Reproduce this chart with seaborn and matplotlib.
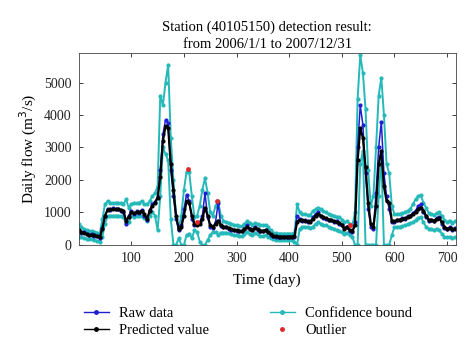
import numpy as np
import pandas as pd
import matplotlib
matplotlib.use("Agg")
import matplotlib.pyplot as plt
import seaborn as sns
from matplotlib.lines import Line2D

# sampled every 5 days (day 0 .. 715)
days = np.arange(0, 716, 5)

raw_data = [
    420, 380, 400, 340, 300, 330, 280, 270, 220, 520,
    880, 1120, 1080, 1130, 1090, 1120, 1050, 1000, 650, 900,
    1050, 950, 1030, 980, 1080, 900, 760, 1080, 1250, 1330,
    1480, 2300, 3400, 3850, 3750, 2300, 1500, 800, 450, 600,
    1100, 1550, 1350, 800, 600, 650, 700, 900, 1600, 850,
    560, 520, 700, 1300, 580, 560, 540, 500, 470, 450,
    440, 420, 430, 500, 600, 490, 450, 540, 470, 430,
    420, 460, 390, 310, 270, 255, 250, 250, 250, 250,
    250, 250, 250, 900, 800, 740, 760, 700, 720, 850,
    950, 1000, 880, 830, 800, 760, 780, 700, 720, 650,
    600, 520, 540, 430, 400, 700, 3000, 4300, 3700, 2200,
    1100, 560, 500, 1600, 3000, 3800, 2200, 1500, 1100, 700,
    700, 780, 760, 820, 800, 880, 900, 980, 1050, 1200,
    1250, 1000, 850, 750, 780, 730, 820, 860, 650, 520,
    480, 560, 450, 520,
]

predicted = [
    450, 400, 380, 330, 300, 310, 290, 260, 230, 500,
    900, 1080, 1100, 1100, 1100, 1100, 1080, 1050, 750, 850,
    1000, 980, 1000, 1000, 1050, 950, 800, 1050, 1200, 1300,
    1450, 2100, 3200, 3650, 3600, 2500, 1700, 900, 500, 550,
    900, 1350, 1300, 900, 650, 600, 650, 800, 1150, 900,
    600, 550, 650, 750, 600, 560, 550, 520, 480, 460,
    450, 430, 420, 480, 560, 500, 460, 520, 480, 440,
    430, 450, 400, 320, 280, 260, 250, 250, 250, 250,
    250, 250, 260, 700, 780, 760, 750, 720, 700, 800,
    900, 960, 900, 850, 820, 780, 760, 720, 700, 680,
    620, 500, 560, 450, 420, 600, 2600, 3600, 3300, 2400,
    1300, 650, 550, 1200, 2500, 2900, 1800, 1350, 1300, 750,
    720, 760, 780, 800, 820, 850, 880, 950, 1000, 1100,
    1150, 1050, 900, 780, 760, 750, 800, 820, 700, 550,
    500, 520, 480, 500,
]

upper_bound = [
    650, 550, 480, 450, 420, 430, 400, 380, 350, 800,
    1250, 1350, 1300, 1280, 1300, 1300, 1280, 1250, 1400, 1150,
    1250, 1300, 1280, 1300, 1350, 1250, 1250, 1350, 1500, 1600,
    1800, 4600, 4300, 5000, 5550, 3300, 2000, 900, 500, 900,
    1700, 2250, 2250, 1500, 850, 900, 1200, 1700, 2050, 1600,
    1000, 900, 1200, 1350, 900, 750, 700, 680, 650, 620,
    600, 580, 570, 650, 720, 680, 620, 680, 640, 600,
    600, 620, 560, 450, 380, 360, 350, 350, 350, 350,
    350, 350, 360, 1250, 1000, 950, 950, 920, 920, 1050,
    1100, 1150, 1100, 1050, 1000, 950, 930, 900, 870, 850,
    780, 700, 720, 650, 600, 1000, 4500, 5850, 5300, 4200,
    2300, 1200, 1500, 3000, 4600, 5150, 4000, 2500, 2200, 1200,
    950, 950, 960, 980, 1000, 1050, 1100, 1250, 1400, 1500,
    1530, 1300, 1150, 980, 950, 920, 980, 1000, 900, 760,
    700, 750, 680, 720,
]

lower_bound = [
    250, 230, 220, 190, 170, 180, 150, 120, 80, 250,
    650, 880, 900, 900, 900, 900, 880, 850, 660, 700,
    880, 850, 880, 880, 900, 820, 750, 900, 1000, 900,
    450, 1500, 3000, 2800, 2600, 800, 0, 0, 200, 0,
    0, 300, 350, 200, 450, 400, 100, 0, 0, 150,
    300, 400, 400, 300, 380, 380, 380, 360, 320, 300,
    300, 280, 270, 330, 400, 330, 300, 360, 320, 280,
    270, 290, 250, 200, 180, 160, 150, 150, 150, 150,
    150, 150, 100, 0, 500, 560, 560, 540, 520, 560,
    650, 700, 650, 600, 600, 560, 520, 500, 450, 420,
    400, 350, 380, 300, 250, 0, 0, 2500, 2900, 0,
    0, 0, 0, 0, 1500, 2700, 0, 0, 0, 300,
    550, 560, 560, 580, 600, 640, 660, 700, 760, 840,
    850, 700, 560, 500, 480, 450, 500, 450, 350, 250,
    230, 250, 220, 240,
]

outlier_days = [208, 224, 263, 516]
outlier_vals = [2350, 700, 1350, 600]

df = pd.DataFrame({"day": days, "raw": raw_data, "pred": predicted,
                   "upper": upper_bound, "lower": lower_bound})

plt.rcParams["font.family"] = ["Liberation Serif", "DejaVu Serif"]
plt.rcParams["font.size"] = 10

c_raw = "#1f1fd0"
c_pred = "#000000"
c_conf = "#25b9b9"
c_out = "#e02828"

fig = plt.figure(figsize=(4.74, 3.58), dpi=100)
ax = fig.add_axes([0.166, 0.316, 0.795, 0.535])

mk = dict(marker="o", markersize=3.0, markeredgewidth=0)
sns.lineplot(data=df, x="day", y="upper", color=c_conf, linewidth=1.4, ax=ax, **mk)
sns.lineplot(data=df, x="day", y="lower", color=c_conf, linewidth=1.4, ax=ax, **mk)
sns.lineplot(data=df, x="day", y="raw", color=c_raw, linewidth=1.1, ax=ax, **mk)
sns.lineplot(data=df, x="day", y="pred", color=c_pred, linewidth=1.6, ax=ax, **mk)
sns.scatterplot(x=outlier_days, y=outlier_vals, color=c_out, s=12, linewidth=0,
                ax=ax, zorder=5)

ax.set_xlim(0, 716)
ax.set_ylim(0, 5900)
ax.set_xticks([100, 200, 300, 400, 500, 600, 700])
ax.set_yticks([0, 1000, 2000, 3000, 4000, 5000])
ax.tick_params(direction="in", top=True, right=True, length=3, width=0.6,
               labelsize=10, colors="#222222", pad=5)
for s in ax.spines.values():
    s.set_linewidth(0.6)
    s.set_color("#444444")

ax.set_xlabel("Time (day)", fontsize=11, labelpad=6)
ax.set_ylabel("Daily flow (m$^3$/s)", fontsize=11)
ax.set_title("Station (40105150) detection result:\nfrom 2006/1/1 to 2007/12/31",
             fontsize=10.5, linespacing=1.35, pad=4)

handles = [
    Line2D([], [], color=c_raw, marker="o", markersize=2.5, linewidth=1.0),
    Line2D([], [], color=c_pred, marker="o", markersize=2.5, linewidth=1.0),
    Line2D([], [], color=c_conf, marker="o", markersize=2.5, linewidth=1.0),
    Line2D([], [], color=c_out, marker="o", markersize=2.5, linewidth=0),
]
labels = ["Raw data", "Predicted value", "Confidence bound", "Outlier"]
fig.legend(handles, labels, ncol=2, loc="center", bbox_to_anchor=(0.523, 0.101),
           frameon=False, fontsize=10.5, handlelength=1.7, columnspacing=4.2,
           labelspacing=0.3, handletextpad=0.7)

fig.savefig("out.png", dpi=100)
